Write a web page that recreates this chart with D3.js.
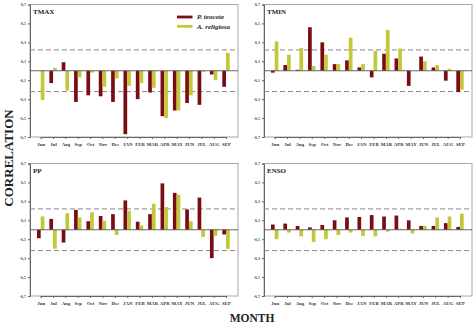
<!DOCTYPE html>
<html>
<head>
<meta charset="utf-8">
<script src="https://cdn.jsdelivr.net/npm/d3@7"></script>
<style>
  html, body { margin: 0; padding: 0; background: #fff; }
  svg { display: block; }
  text { font-family: "Liberation Serif", "Times New Roman", serif; }
</style>
</head>
<body>
<svg id="chart" width="474" height="327"></svg>
<script>
// Month sequence (previous year Jun..Dec, current year JAN..SEP)
const months = ["Jun","Jul","Aug","Sep","Oct","Nov","Dec","JAN","FEB","MAR","APR","MAY","JUN","JUL","AUG","SEP"];
const yTicks = [0.7, 0.5, 0.3, 0.1, -0.1, -0.3, -0.5, -0.7];
const yTickLabels = ["0,7","0,5","0,3","0,1","-0,1","-0,3","-0,5","-0,7"];
const significance = [0.22, -0.22];
const speciesNames = ["P. teocote", "A. religiosa"];
const panelNames = ["TMAX", "TMIN", "PP", "ENSO"];

// Correlation coefficients per climate variable
const tmaxTeocote   = [0.00,-0.13,0.09,-0.33,-0.26,-0.27,-0.33,-0.67,-0.30,-0.23,-0.48,-0.42,-0.34,-0.36,-0.04,-0.17];
const tmaxReligiosa = [-0.31,0.03,-0.21,-0.07,-0.02,-0.17,-0.08,-0.16,-0.13,-0.18,-0.50,-0.42,-0.26,-0.01,-0.10,0.19];
const tminTeocote   = [-0.02,0.06,0.01,0.46,0.30,0.07,0.11,0.035,-0.07,0.18,0.13,-0.16,0.15,0.035,-0.105,-0.225];
const tminReligiosa = [0.31,0.17,0.24,0.05,0.17,0.07,0.35,0.07,0.21,0.43,0.235,0.00,0.10,0.06,0.02,-0.20];
const ppTeocote     = [-0.09,0.115,-0.135,0.21,0.09,0.145,0.165,0.31,0.085,0.165,0.49,0.39,0.215,0.34,-0.30,-0.05];
const ppReligiosa   = [0.14,-0.20,0.175,0.13,0.185,0.095,-0.055,0.20,0.045,0.275,0.24,0.37,0.09,-0.075,-0.065,-0.20];
const ensoTeocote   = [0.055,0.065,0.04,0.025,0.05,0.10,0.13,0.135,0.155,0.14,0.15,0.10,0.04,0.04,0.07,0.03];
const ensoReligiosa = [-0.10,-0.03,-0.07,-0.13,-0.10,-0.055,-0.03,-0.065,-0.07,-0.02,0.01,-0.04,0.04,0.13,0.14,0.17];

const seriesByPanel = [
  [tmaxTeocote, tmaxReligiosa],
  [tminTeocote, tminReligiosa],
  [ppTeocote, ppReligiosa],
  [ensoTeocote, ensoReligiosa]
];

const colors = ["#7a0d14", "#c4c73a"];
const barW = 3.7;

const panels = [
  { x0: 30,  x1: 238, y0: 4.5,   y1: 137 },
  { x0: 264, x1: 472, y0: 4.5,   y1: 137 },
  { x0: 30,  x1: 238, y0: 163.5, y1: 296 },
  { x0: 264, x1: 472, y0: 163.5, y1: 296 }
];

const svg = d3.select("#chart");

panels.forEach((p, i) => {
  const g = svg.append("g");
  const x = d3.scalePoint().domain(months).range([p.x0 + 10.7, p.x1 - 12]);
  const y = d3.scaleLinear().domain([-0.7, 0.7]).range([p.y1, p.y0]);

  // frame
  g.append("rect")
    .attr("x", p.x0).attr("y", p.y0)
    .attr("width", p.x1 - p.x0).attr("height", p.y1 - p.y0)
    .attr("fill", "none").attr("stroke", "#a8a8a8").attr("stroke-width", 1);

  // left axis
  const yAxis = d3.axisLeft(y).tickValues(yTicks)
    .tickFormat((d, k) => yTickLabels[k]).tickSize(2).tickPadding(2);
  const ya = g.append("g").attr("transform", `translate(${p.x0},0)`).call(yAxis);
  ya.select(".domain").attr("stroke", "#666");
  ya.selectAll(".tick line").attr("stroke", "#666");
  ya.selectAll(".tick text")
    .attr("font-size", 4.2).attr("font-weight", "bold").attr("fill", "#555")
    .style("font-family", "Liberation Serif, serif");

  // bottom axis
  const xAxis = d3.axisBottom(x).tickSize(2).tickPadding(4);
  const xa = g.append("g").attr("transform", `translate(0,${p.y1})`).call(xAxis);
  xa.select(".domain").attr("stroke", "#666");
  xa.selectAll(".tick line").attr("stroke", "#666");
  xa.selectAll(".tick text")
    .attr("font-size", 4.8).attr("font-weight", "bold").attr("fill", "#333")
    .style("font-family", "Liberation Serif, serif");

  // significance thresholds
  g.selectAll("line.sig").data(significance).join("line")
    .attr("class", "sig")
    .attr("x1", p.x0).attr("x2", p.x1)
    .attr("y1", d => y(d)).attr("y2", d => y(d))
    .attr("stroke", "#8a8a8a").attr("stroke-width", 1)
    .attr("stroke-dasharray", "5,3");

  // bars
  seriesByPanel[i].forEach((vals, s) => {
    g.selectAll(`rect.s${s}`).data(vals).join("rect")
      .attr("class", `s${s}`)
      .attr("x", (d, k) => x(months[k]) - (s === 0 ? barW : 0))
      .attr("y", d => y(Math.max(0, d)))
      .attr("width", barW)
      .attr("height", d => Math.abs(y(d) - y(0)))
      .attr("fill", colors[s]);
  });

  // zero line
  g.append("line")
    .attr("x1", p.x0).attr("x2", p.x1)
    .attr("y1", y(0)).attr("y2", y(0))
    .attr("stroke", "#555").attr("stroke-width", 0.9);

  // panel title
  g.append("text")
    .attr("x", p.x0 + 3).attr("y", p.y0 + 9)
    .attr("font-size", 7).attr("font-weight", "bold").attr("fill", "#222")
    .text(panelNames[i]);
});

// legend
const legend = svg.append("g");
speciesNames.forEach((name, s) => {
  const ly = 17 + s * 9.3;
  legend.append("rect")
    .attr("x", 177).attr("y", ly - 1.4).attr("width", 15.5).attr("height", 2.8)
    .attr("fill", colors[s]);
  legend.append("text")
    .attr("x", 197).attr("y", ly + 2.4)
    .attr("font-size", 7).attr("font-weight", "bold").attr("font-style", "italic")
    .attr("fill", "#222")
    .text(name);
});

// axis titles
svg.append("text")
  .attr("transform", "translate(13,158) rotate(-90)")
  .attr("text-anchor", "middle")
  .attr("font-size", 13).attr("font-weight", "bold").attr("fill", "#222")
  .text("CORRELATION");

svg.append("text")
  .attr("x", 252).attr("y", 322)
  .attr("text-anchor", "middle")
  .attr("font-size", 11.5).attr("font-weight", "bold").attr("fill", "#222")
  .text("MONTH");
</script>
</body>
</html>
